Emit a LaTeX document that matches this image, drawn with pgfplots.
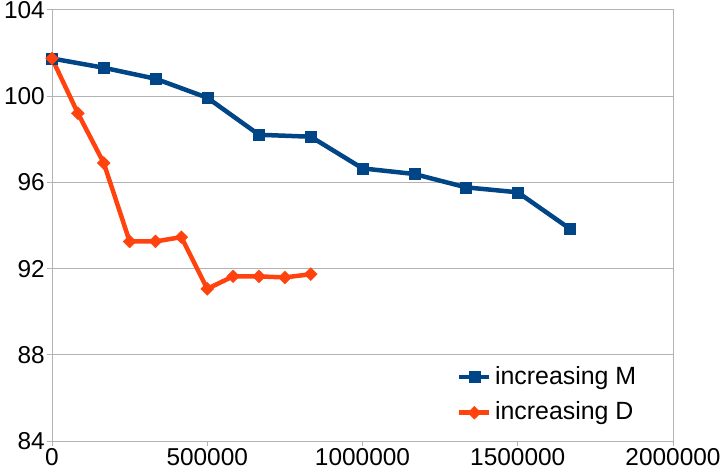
\documentclass[border=0pt]{standalone}
\usepackage{fontspec}
\setmainfont{Liberation Sans}
\usepackage{pgfplots}
\pgfplotsset{compat=1.18}
\definecolor{mblue}{HTML}{004586}
\definecolor{dorange}{HTML}{FF420E}
\definecolor{gridgray}{HTML}{B3B3B3}
\begin{document}
\fontsize{24.5}{29}\selectfont
\begin{tikzpicture}
\begin{axis}[
  scale only axis, width=621bp, height=431bp,
  xmin=0, xmax=2000000, ymin=84, ymax=104,
  xtick={0,500000,1000000,1500000,2000000},
  ytick={84,88,92,96,100,104},
  scaled ticks=false,
  /pgf/number format/.cd, fixed, precision=0, 1000 sep={}, assume math mode=true, /pgfplots/.cd,
  ymajorgrids, major grid style={gridgray, line width=1bp},
  axis line style={gridgray, line width=1bp},
  tick style={gridgray, line width=1bp},
  tick align=outside, major tick length=5bp,
  tick pos=left,
  ticklabel style={font=\fontsize{24.5}{29}\selectfont, text=black},
  yticklabel style={inner sep=2bp},
  xticklabel style={inner sep=2bp},
  legend style={draw=none, fill=white, at={(0.652,0.1787)}, anchor=north west,
    font=\fontsize{25}{29}\selectfont, inner sep=0pt, row sep=10bp,
    nodes={inner xsep=3.5bp}},
  legend cell align=left,
  legend image code/.code={\draw[mark repeat=2,mark phase=2,#1] plot coordinates {(0bp,0bp)(15bp,0bp)(30bp,0bp)};},
]
\coordinate (bl) at (rel axis cs:0,0);
\coordinate (tr) at (rel axis cs:1,1);
\addplot[mblue, line width=4.5bp, mark=square*, mark size=5.5bp, mark options={line width=0.3bp}] coordinates {
(0,101.75) (166667,101.32) (333333,100.81) (500000,99.93) (666667,98.21) (833333,98.12)
(1000000,96.65) (1166667,96.39) (1333333,95.77) (1500000,95.54) (1666667,93.86)
};
\addlegendentry{increasing M}
\addplot[dorange, line width=4.5bp, mark=square*, mark size=4.6bp, mark options={rotate=45, line width=0.3bp}] coordinates {
(0,101.75) (83333,99.21) (166667,96.90) (250000,93.26) (333333,93.26) (416667,93.46)
(500000,91.06) (583333,91.64) (666667,91.64) (750000,91.59) (833333,91.74)
};
\addlegendentry{increasing D}
\end{axis}
\pgfresetboundingbox
\path ([xshift=-52bp,yshift=-35bp]bl) rectangle ([xshift=52bp,yshift=10bp]tr);
\end{tikzpicture}
\end{document}
